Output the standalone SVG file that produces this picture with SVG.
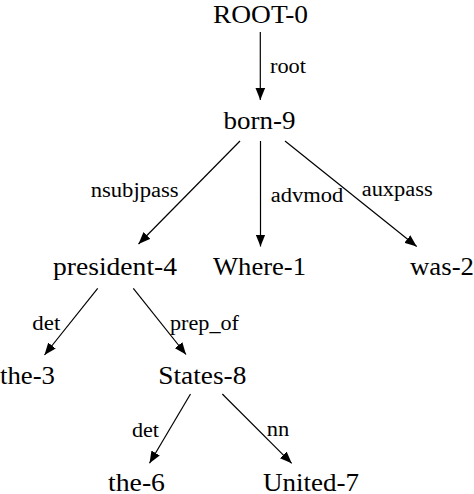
<svg xmlns="http://www.w3.org/2000/svg" width="474" height="494" viewBox="0 0 474 494">
<style>
text{font-family:'Liberation Serif','Times New Roman','DejaVu Serif',serif;fill:#000}
.node{font-size:25.5px;text-anchor:middle}
.lbl{font-size:20.5px}
.edge{stroke:#000;stroke-width:1.2;fill:none;marker-end:url(#arr)}
</style>
<defs>
<marker id="arr" markerUnits="userSpaceOnUse" markerWidth="12" markerHeight="10" viewBox="0 0 10 8" refX="10" refY="4" orient="auto">
<path d="M0,0 L10,4 L0,8 Z" fill="#000"/>
</marker>
</defs>
<rect width="474" height="494" fill="#fff"/>
<g id="connectors">
<line class="edge" x1="260.3" y1="32" x2="260.3" y2="100"/>
<line class="edge" x1="240" y1="141" x2="138.5" y2="244"/>
<line class="edge" x1="260.5" y1="141" x2="260.5" y2="246.5"/>
<line class="edge" x1="285" y1="141" x2="416.7" y2="246.5"/>
<line class="edge" x1="97.7" y1="288.3" x2="44.5" y2="355"/>
<line class="edge" x1="133.3" y1="288.3" x2="186" y2="354.5"/>
<line class="edge" x1="190.5" y1="394" x2="149.5" y2="463.3"/>
<line class="edge" x1="222.3" y1="394" x2="291.7" y2="463.3"/>
</g>
<g id="labels">
<text class="lbl" x="270" y="72.5" textLength="36" lengthAdjust="spacingAndGlyphs">root</text>
<text class="lbl" x="90.7" y="197.3" textLength="88" lengthAdjust="spacingAndGlyphs">nsubjpass</text>
<text class="lbl" x="270.7" y="201.7" textLength="72.5" lengthAdjust="spacingAndGlyphs">advmod</text>
<text class="lbl" x="361.7" y="195.7" textLength="71" lengthAdjust="spacingAndGlyphs">auxpass</text>
<text class="lbl" x="32.3" y="330" textLength="28" lengthAdjust="spacingAndGlyphs">det</text>
<text class="lbl" x="170" y="330" textLength="69" lengthAdjust="spacingAndGlyphs">prep_of</text>
<text class="lbl" x="132" y="436.7" textLength="27" lengthAdjust="spacingAndGlyphs">det</text>
<text class="lbl" x="266.7" y="435.5" textLength="22.5" lengthAdjust="spacingAndGlyphs">nn</text>
</g>
<g id="ROOT-0"><text class="node" x="260.5" y="23" textLength="95" lengthAdjust="spacingAndGlyphs">ROOT-0</text></g>
<g id="born-9"><text class="node" x="259.5" y="129" textLength="72" lengthAdjust="spacingAndGlyphs">born-9</text></g>
<g id="president-4"><text class="node" x="115" y="275" textLength="124" lengthAdjust="spacingAndGlyphs">president-4</text></g>
<g id="Where-1"><text class="node" x="259.5" y="275" textLength="93" lengthAdjust="spacingAndGlyphs">Where-1</text></g>
<g id="was-2"><text class="node" x="442" y="275" textLength="64" lengthAdjust="spacingAndGlyphs">was-2</text></g>
<g id="the-3"><text class="node" x="27.5" y="383.5" textLength="55" lengthAdjust="spacingAndGlyphs">the-3</text></g>
<g id="States-8"><text class="node" x="202.3" y="383.5" textLength="88" lengthAdjust="spacingAndGlyphs">States-8</text></g>
<g id="the-6"><text class="node" x="136.5" y="491" textLength="57" lengthAdjust="spacingAndGlyphs">the-6</text></g>
<g id="United-7"><text class="node" x="311" y="491" textLength="96" lengthAdjust="spacingAndGlyphs">United-7</text></g>
</svg>
